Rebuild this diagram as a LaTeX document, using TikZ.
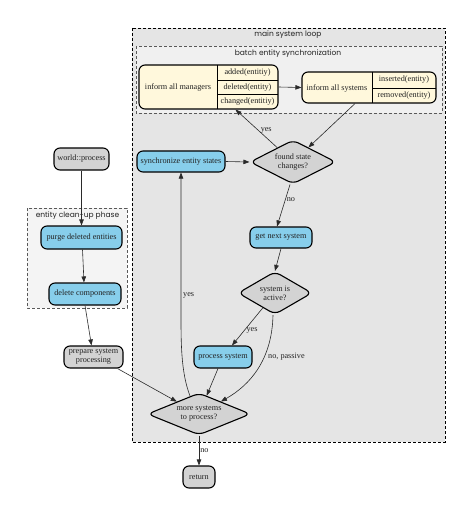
\documentclass[tikz,border=0pt]{standalone}
\usepackage{fontspec}
\setmainfont{Liberation Serif}
\newfontfamily\clusterfont{Poppins}
\usetikzlibrary{shapes.geometric,arrows.meta,calc}
\definecolor{skyb}{HTML}{87CEEB}
\definecolor{lgray}{HTML}{D3D3D3}
\definecolor{cream}{HTML}{FFF8DC}
\definecolor{mainbg}{HTML}{E5E5E5}
\definecolor{batchbg}{HTML}{F0F0F0}
\definecolor{cleanbg}{HTML}{F4F4F4}
\definecolor{edgec}{HTML}{2A2A2A}
\definecolor{textc}{HTML}{222222}
\begin{document}
\begin{tikzpicture}[x=1pt,y=-1pt,
  txt/.style={font=\fontsize{8.2}{9}\selectfont, align=center, text=textc},
  box/.style={txt, draw, line width=1.1pt, rounded corners=6pt, inner sep=1pt},
  bluebox/.style={box, fill=skyb},
  graybox/.style={box, fill=lgray},
  recbox/.style={box, fill=cream},
  dec/.style={txt, draw, diamond, aspect=2, line width=1.1pt, rounded corners=6pt, fill=lgray, inner sep=0pt},
  ftext/.style={txt, inner sep=0pt},
  sep/.style={line width=0.7pt},
  edge/.style={line width=0.6pt, draw=edgec, -{Triangle[length=6pt,width=4.5pt]}},
  lbl/.style={txt, inner sep=1pt},
  clustitle/.style={font=\clusterfont\fontsize{7.5}{9}\selectfont, inner sep=0pt, text=textc},
  maincl/.style={draw, dash pattern=on 3pt off 2pt, line width=0.9pt, fill=mainbg},
  subcl/.style={draw=black!65, dash pattern=on 3pt off 2pt, line width=0.7pt},
]
\useasboundingbox (0,0) rectangle (474,513);

% clusters
\draw[maincl] (132,28) rectangle (445,442);
\node[clustitle] (mainlbl) at (288,35) {main system loop};
\draw[subcl, fill=batchbg] (136,46) rectangle (442,113);
\node[clustitle] (batchlbl) at (288,53.5) {batch entity synchronization};
\draw[subcl, fill=cleanbg] (27,208) rectangle (127,308);
\node[clustitle] (cleanlbl) at (77.5,216) {entity clean-up phase};

% record: inform all managers
\node[recbox, minimum width=139pt, minimum height=44pt] (mgr) at (208.5,87) {};
\draw[sep] (217,65) -- (217,109);
\draw[sep] (217,80) -- (278,80);
\draw[sep] (217,94.5) -- (278,94.5);
\node[ftext] (mgrlbl) at (178,87) {inform all managers};
\node[ftext] (add) at (247.5,72.5) {added(entitiy)};
\node[ftext] (del) at (247.5,87.2) {deleted(entity)};
\node[ftext] (chg) at (247.5,101.8) {changed(entitiy)};

% record: inform all systems
\node[recbox, minimum width=134pt, minimum height=31pt] (sys) at (369,87.5) {};
\draw[sep] (372,72) -- (372,103);
\draw[sep] (372,88) -- (436,88);
\node[ftext] (syslbl) at (337,88) {inform all systems};
\node[ftext] (ins) at (404,80) {inserted(entity)};
\node[ftext] (rem) at (404,95.5) {removed(entity)};

% nodes
\node[bluebox, minimum width=88pt, minimum height=21pt] (sync) at (181,161.5) {synchronize entity states};
\node[dec, minimum width=86pt, minimum height=44pt] (found) at (293,162) {found state\\changes?};
\node[bluebox, minimum width=62pt, minimum height=21pt] (getnext) at (281,237.5) {get next system};
\node[dec, minimum width=74pt, minimum height=43pt] (active) at (275,293) {system is\\active?};
\node[bluebox, minimum width=58pt, minimum height=22pt] (process) at (223,357) {process system};
\node[dec, minimum width=103pt, minimum height=42pt] (more) at (199,414) {more systems\\to process?};
\node[graybox, minimum width=32pt, minimum height=22pt] (ret) at (199,477) {return};
\node[graybox, minimum width=55pt, minimum height=22pt] (world) at (81.5,159) {world::process};
\node[bluebox, minimum width=81pt, minimum height=23pt] (purge) at (81.5,237.5) {purge deleted entities};
\node[bluebox, minimum width=72pt, minimum height=22pt] (delete) at (85,294) {delete components};
\node[graybox, minimum width=59pt, minimum height=22pt] (prepare) at (93.5,357) {prepare system\\processing};

% edges
\draw[edge] (mgr.east) -- (sys.west);
\draw[edge] ([xshift=-14pt]sys.south) -- (found);
\draw[edge] (found) -- ([xshift=-12pt]chg.south |- mgr.south) node[lbl, pos=0.45, right, xshift=1pt] (yes1) {yes};
\draw[edge] (sync.east) -- (found.west);
\draw[edge] ([xshift=-3pt]found.south) -- ([xshift=-4pt]getnext.north) node[lbl, pos=0.35, right] (no1) {no};
\draw[edge] (getnext.south) -- (active.north);
\draw[edge] (active) -- ([xshift=9pt]process.north) node[lbl, pos=0.6, right, xshift=1pt] (yes2) {yes};
\draw[edge] ([xshift=-2pt]active.south) .. controls (272,360) and (250,385) .. (more);
\node[lbl, anchor=west] (nopass) at (267,357) {no, passive};
\draw[edge] ([xshift=-5pt]process.south) -- (more);
\draw[edge] ([xshift=24pt]prepare.south) -- (more);
\draw[edge] ([xshift=-9pt,yshift=-3.5pt]more.north) .. controls (182,375) and (181,350) .. (181,320) -- (sync.south);
\node[lbl, anchor=west] (yes3) at (182,295) {yes};
\draw[edge] (more.south) -- (ret.north) node[lbl, midway, right] (no2) {no};
\draw[edge] (world.south) -- (purge.north);
\draw[edge] ([xshift=1pt]purge.south) -- ([xshift=-1pt]delete.north);
\draw[edge] (delete.south) -- ([xshift=-2pt]prepare.north);
\end{tikzpicture}
\end{document}
